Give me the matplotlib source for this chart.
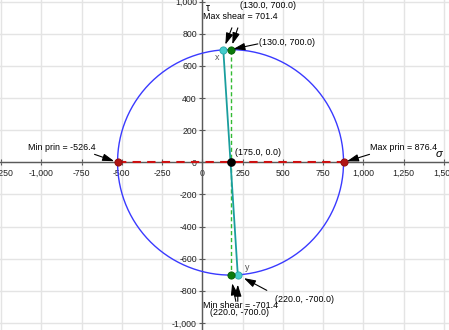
import numpy as np
import matplotlib
matplotlib.use('Agg')
import matplotlib.pyplot as plt
from matplotlib.ticker import FuncFormatter, FixedLocator

# ---- data ----
center = (175.0, 0.0)
radius = 701.4
point_x = (130.0, 700.0)
point_y = (220.0, -700.0)
sigma_min = -526.4
sigma_max = 876.4
tau_max = 701.4
tau_min = -701.4
x_ticks = list(range(-1250, 1501, 250))
y_ticks = list(range(-1000, 1001, 200))

plt.rcParams['font.family'] = ['Liberation Sans', 'DejaVu Sans']

fig = plt.figure(figsize=(4.49, 3.30), dpi=100)
ax = fig.add_axes([0, 0, 1, 1])
ax.set_xlim(-1256, 1531)
ax.set_ylim(-1043, 1010)

# axes through origin
for s in ['top', 'right']:
    ax.spines[s].set_visible(False)
for s in ['left', 'bottom']:
    ax.spines[s].set_position(('data', 0))
    ax.spines[s].set_color('#5a5a5a')
    ax.spines[s].set_linewidth(1.0)
ax.xaxis.set_major_locator(FixedLocator(x_ticks))
ax.yaxis.set_major_locator(FixedLocator(y_ticks))
fmt = FuncFormatter(lambda v, p: f"{v:,.0f}")
ax.xaxis.set_major_formatter(fmt)
ax.yaxis.set_major_formatter(fmt)
ax.tick_params(direction='inout', length=4, width=0.8, color='#5a5a5a',
               labelsize=6.3, labelcolor='#222222')
ax.tick_params(axis='x', pad=2.5)
ax.tick_params(axis='y', pad=2.0)
ax.grid(True, color='#e4e4e4', lw=1.0)
ax.set_axisbelow(True)

# axis labels
ax.annotate('σ', xy=(1, 0), xycoords=('axes fraction', 'data'),
            xytext=(-13, 3), textcoords='offset pixels', fontsize=8,
            ha='left', va='bottom', style='italic')
ax.annotate('τ', xy=(0, 1), xycoords=('data', 'axes fraction'),
            xytext=(4, -8), textcoords='offset pixels', fontsize=7.5,
            ha='left', va='center')

# Mohr circle
th = np.linspace(0, 2 * np.pi, 500)
ax.plot(center[0] + radius * np.cos(th), center[1] + radius * np.sin(th),
        color='#3a3aff', lw=1.0, zorder=3)

# principal stresses dashed line
ax.plot([sigma_min, sigma_max], [center[1], center[1]], color='#cc1111',
        lw=1.5, ls=(0, (4, 3)), zorder=4)
# vertical max shear dashed line
ax.plot([center[0], center[0]], [tau_max, tau_min], color='#33bb33',
        lw=1.0, ls=(0, (3, 2)), zorder=4)
# X-Y diameter
ax.plot([point_x[0], point_y[0]], [point_x[1], point_y[1]],
        color='#1a9e9e', lw=1.3, zorder=5)

# points
ms = 5.2
ax.plot([point_x[0], point_y[0]], [point_x[1], point_y[1]], 'o', ms=ms,
        mfc='#44cccc', mec='#2aa8a8', mew=0.6, zorder=7)
ax.plot([center[0], center[0]], [tau_max, tau_min], 'o', ms=ms,
        mfc='#0b7a0b', mec='#065c06', mew=0.6, zorder=7)
ax.plot([sigma_min, sigma_max], [0, 0], 'o', ms=ms,
        mfc='#b01515', mec='#8a0a0a', mew=0.6, zorder=7)
ax.plot([center[0]], [center[1]], 'o', ms=ms, mfc='black', mec='black', zorder=7)

fs = 6.4
arrow = dict(arrowstyle='-|>,head_length=0.7,head_width=0.22', color='black',
             lw=0.8, shrinkA=0)


def label(txt, xy, off, **kw):
    ax.annotate(txt, xy=xy, xytext=off, textcoords='offset pixels',
                fontsize=fs, ha='left', va='center', zorder=8, **kw)


def arr(xy, off, shrink):
    ax.annotate('', xy=xy, xytext=off, textcoords='offset pixels',
                arrowprops=dict(arrow, shrinkB=shrink), zorder=8)


pmin = (sigma_min, 0)
pmax = (sigma_max, 0)
label(f'Min prin = {sigma_min}', pmin, (-90, 14.7))
arr(pmin, (-23, 8), 2.5)
label(f'Max prin = {sigma_max}', pmax, (26, 14.7))
arr(pmax, (26, 8), 2.5)
label(f'({center[0]:.1f}, {center[1]:.1f})', center, (4.5, 9.7))

gtop = (center[0], tau_max)
gbot = (center[0], tau_min)
label(f'({point_x[0]:.1f}, {point_x[1]:.1f})', point_x, (16.6, 44))
label(f'Max shear = {tau_max}', gtop, (-27.7, 32.7))
arr(point_x, (8.6, 22), 4)
arr(gtop, (7.3, 21.7), 4)
label(f'({point_x[0]:.1f}, {point_x[1]:.1f})', gtop, (28.3, 6.7))
arr(gtop, (27.3, 5.7), 2)
label('x', point_x, (-8.4, -8), color='#555555')

label(f'Min shear = {tau_min}', gbot, (-27.7, -30.3))
label(f'({point_y[0]:.1f}, {point_y[1]:.1f})', point_y, (-28, -37.5))
label(f'({point_y[0]:.1f}, {point_y[1]:.1f})', point_y, (37, -24.5))
arr(gbot, (5.3, -26.3), 6)
arr(point_y, (0, -26.5), 7)
arr(point_y, (29, -15.5), 5)
label('y', point_y, (7, 7.5), color='#555555')

fig.savefig('out.png', dpi=100)
